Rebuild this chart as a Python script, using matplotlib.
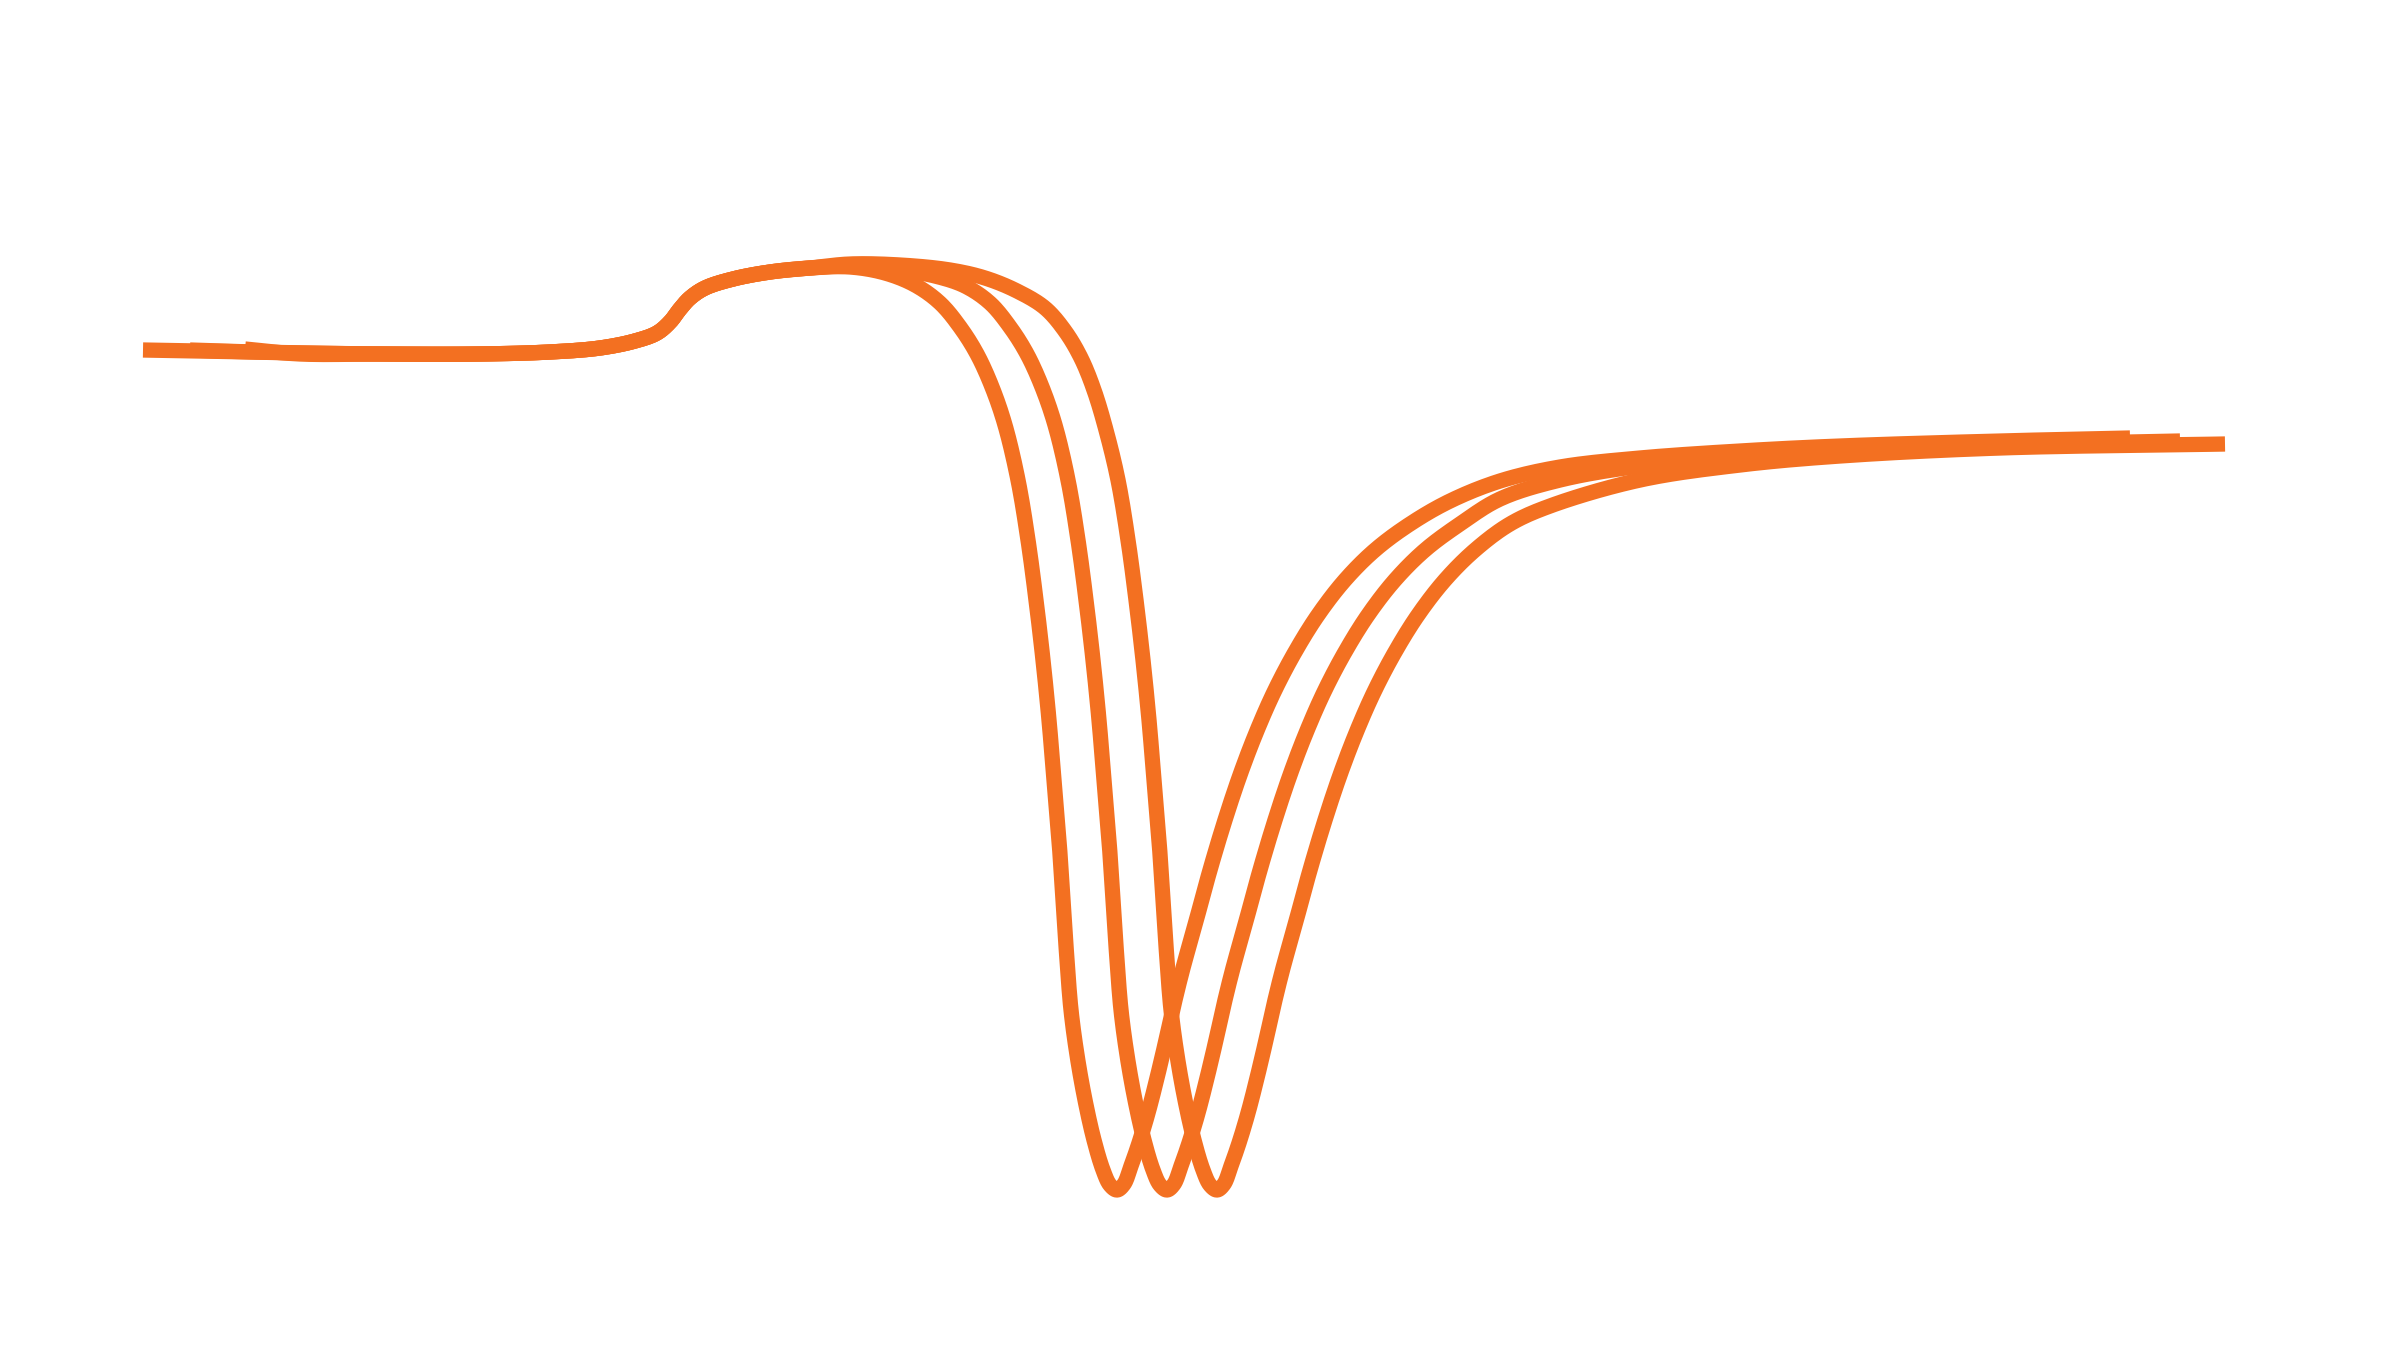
import matplotlib
matplotlib.use("Agg")
import matplotlib.pyplot as plt
import numpy as np

# shared left part (flat run + small S-bump up to the crest)
left_x = [380, 480, 550, 600, 635, 657, 670, 680, 690, 705, 733, 770, 810]
left_y = [354, 354, 352, 348, 341, 333, 322, 309, 298, 288, 279, 272, 268]

# curve 1 (leftmost dip)
c1_start_x = [143, 250]
c1_start_y = [350, 352]
c1_x = [850, 885, 915, 940, 960, 977, 992, 1005, 1018, 1028, 1036, 1043, 1049, 1054,
        1059, 1063, 1067, 1071, 1077, 1085, 1094, 1103, 1110, 1117,
        1124, 1131, 1139, 1148, 1157, 1166, 1175, 1183, 1195, 1210, 1225, 1240, 1256,
        1274, 1295, 1318, 1345, 1375, 1410, 1450, 1500, 1560, 1640, 1740, 1840, 2000, 2130]
c1_y = [267, 273, 285, 303, 327, 354, 387, 425, 480, 540, 600, 660, 720, 780,
        840, 900, 960, 1010, 1055, 1100, 1140, 1170, 1185, 1190,
        1184, 1166, 1143, 1113, 1078, 1040, 1000, 968, 925, 870, 820, 775, 733,
        692, 652, 615, 580, 550, 524, 501, 481, 467, 458, 451, 446, 441, 438]

# curve 2 (middle dip)
c2_start_x = [190, 250]
c2_start_y = [350, 352]
c2_x = [850, 900, 935, 965, 990, 1010, 1027, 1042, 1055, 1068, 1078, 1086, 1093, 1099,
        1104, 1109, 1113, 1117, 1121, 1127, 1135, 1144, 1153, 1160, 1167,
        1174, 1181, 1189, 1198, 1207, 1216, 1225, 1233, 1245, 1260, 1275, 1290, 1306,
        1324, 1345, 1368, 1395, 1425, 1460, 1500, 1560, 1640, 1740, 1840, 2000, 2180]
c2_y = [266, 270, 276, 286, 303, 327, 354, 387, 425, 480, 540, 600, 660, 720,
        780, 840, 900, 960, 1010, 1055, 1100, 1140, 1170, 1185, 1190,
        1184, 1166, 1143, 1113, 1078, 1040, 1000, 968, 925, 870, 820, 775, 733,
        692, 652, 615, 580, 550, 524, 499, 480, 466, 457, 451, 445, 441]

# curve 3 (rightmost dip)
c3_start_x = [245, 300]
c3_start_y = [349, 354]
c3_x = [850, 900, 950, 985, 1017, 1045, 1065, 1081, 1094, 1106, 1118, 1128, 1136, 1143,
        1149, 1154, 1159, 1163, 1167, 1171, 1177, 1185, 1194, 1203, 1210, 1217,
        1224, 1231, 1239, 1248, 1257, 1266, 1275, 1283, 1295, 1310, 1325, 1340, 1356,
        1374, 1395, 1418, 1445, 1475, 1510, 1550, 1640, 1740, 1840, 2000, 2225]
c3_y = [264, 265, 270, 278, 291, 308, 331, 358, 390, 430, 480, 540, 600, 660,
        720, 780, 840, 900, 960, 1010, 1055, 1100, 1140, 1170, 1185, 1190,
        1184, 1166, 1143, 1113, 1078, 1040, 1000, 968, 925, 870, 820, 775, 733,
        692, 652, 615, 580, 550, 524, 506, 480, 465, 456, 448, 444]

curves = [
    (c1_start_x, c1_start_y, c1_x, c1_y),
    (c2_start_x, c2_start_y, c2_x, c2_y),
    (c3_start_x, c3_start_y, c3_x, c3_y),
]

orange = "#F37021"


def smooth_line(xs, ys, steps=16):
    # centripetal catmull-rom, only used to draw a smooth stroke through the points
    p = np.column_stack([xs, ys]).astype(float)
    p = np.vstack([2 * p[0] - p[1], p, 2 * p[-1] - p[-2]])
    out = []
    for i in range(1, len(p) - 2):
        p0, p1, p2, p3 = p[i - 1], p[i], p[i + 1], p[i + 2]
        t0 = 0.0
        t1 = t0 + np.linalg.norm(p1 - p0) ** 0.5 + 1e-9
        t2 = t1 + np.linalg.norm(p2 - p1) ** 0.5 + 1e-9
        t3 = t2 + np.linalg.norm(p3 - p2) ** 0.5 + 1e-9
        t = np.linspace(t1, t2, steps, endpoint=False)[:, None]
        a1 = (t1 - t) / (t1 - t0) * p0 + (t - t0) / (t1 - t0) * p1
        a2 = (t2 - t) / (t2 - t1) * p1 + (t - t1) / (t2 - t1) * p2
        a3 = (t3 - t) / (t3 - t2) * p2 + (t - t2) / (t3 - t2) * p3
        b1 = (t2 - t) / (t2 - t0) * a1 + (t - t0) / (t2 - t0) * a2
        b2 = (t3 - t) / (t3 - t1) * a2 + (t - t1) / (t3 - t1) * a3
        out.append((t2 - t) / (t2 - t1) * b1 + (t - t1) / (t2 - t1) * b2)
    out.append(p[-2][None, :])
    out = np.vstack(out)
    return out[:, 0], out[:, 1]


fig = plt.figure(figsize=(24, 13.72), dpi=100)
ax = fig.add_axes([0, 0, 1, 1])

for sx, sy, cx, cy in curves:
    xs, ys = smooth_line(sx + left_x + cx, sy + left_y + cy)
    ax.plot(xs, ys, color=orange, lw=11, solid_capstyle="butt",
            solid_joinstyle="round")

ax.set_xlim(0, 2400)
ax.set_ylim(1372, 0)
ax.axis("off")

fig.savefig("out.png", dpi=100, facecolor="white")
